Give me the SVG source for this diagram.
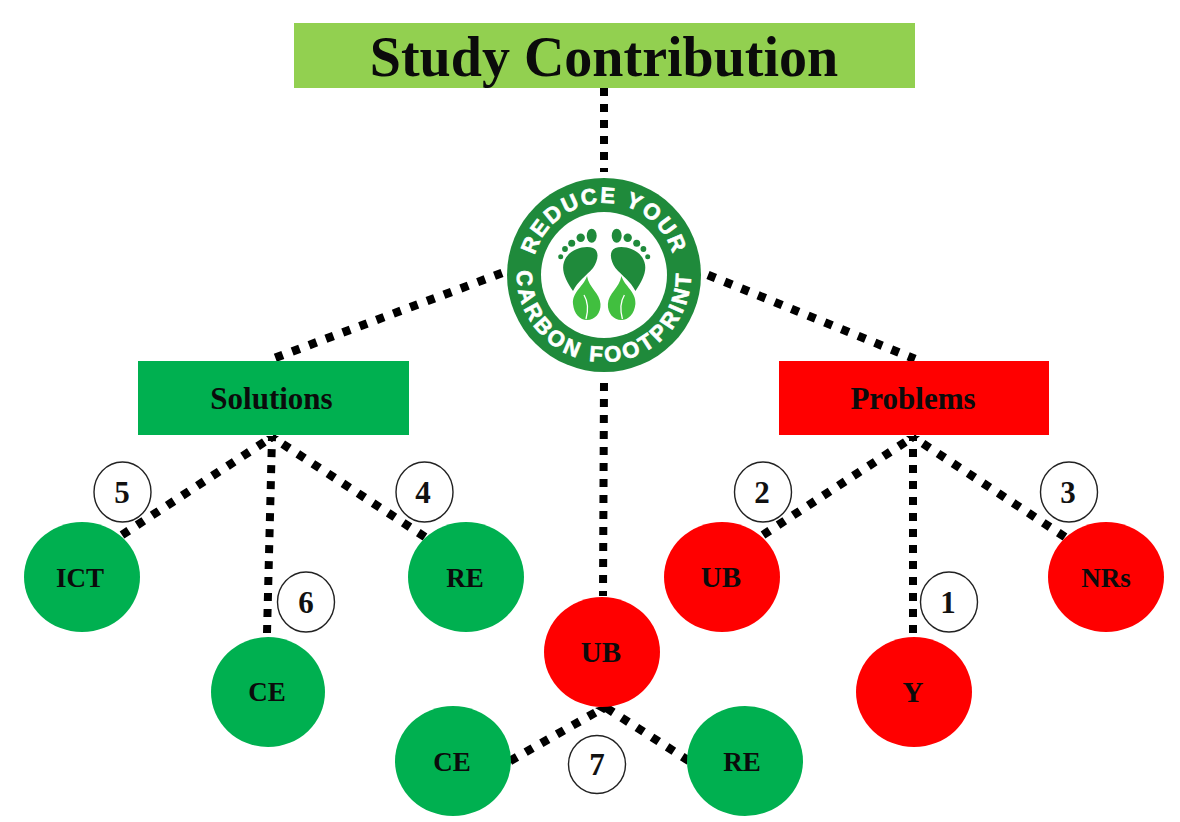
<svg xmlns="http://www.w3.org/2000/svg" xmlns:xlink="http://www.w3.org/1999/xlink" width="1180" height="822" viewBox="0 0 1180 822">
<style>
.lbl{font-family:"Liberation Serif","Times New Roman",serif;font-weight:bold;fill:#0b0b0b;text-anchor:middle}
.s{font-size:27px}
.m{font-size:29px}
.b{font-size:31px}
.num{font-family:"Liberation Serif","Times New Roman",serif;font-weight:bold;font-size:31px;fill:#111;text-anchor:middle}
.g{fill:#00b050}
.r{fill:#ff0000}
.n{fill:#fff;stroke:#222;stroke-width:1.4}
.c{fill:none;stroke:#000;stroke-width:8;stroke-dasharray:8 8}
.d{stroke-width:8.5;stroke-dasharray:8 10}
.lt{font-family:"Liberation Sans",Arial,sans-serif;font-weight:bold;font-size:22px;fill:#fff;stroke:#fff;stroke-width:.7;text-anchor:middle}
</style>
<defs>
<path id="arcTop" d="M532 275A72 72 0 0 1 676 275"/>
<path id="arcBot" d="M517 275A87 87 0 0 0 691 275"/>
<g id="foot">
<path d="M573 291C566 281 561 271 564 262C568 249 585 245 593 248C600 251 598 261 593 268C586 276 578 281 573 291Z" fill="#1f8a3b"/>
<ellipse cx="591.7" cy="235.7" rx="5" ry="7" fill="#1f8a3b"/>
<circle cx="580.7" cy="237.7" r="4.2" fill="#1f8a3b"/>
<circle cx="571.7" cy="243.3" r="3.5" fill="#1f8a3b"/>
<circle cx="565" cy="249" r="2.9" fill="#1f8a3b"/>
<circle cx="560.7" cy="256.7" r="2.5" fill="#1f8a3b"/>
<path d="M587 276C584 286 572 292 573 304C574 314 580 320 587 320C595 320 601 313 600.500 304C600 293 589 288 587 276Z" fill="#41bf3f"/>
<path d="M586 319C589 308 587 300 584 295" fill="none" stroke="#fff" stroke-width="1.3"/>
</g>
</defs>
<rect width="1180" height="822" fill="#fff"/>
<g id="connectors">
<path class="c" d="M604 88V172"/>
<path class="c d" d="M502 273L272 359"/>
<path class="c d" d="M708 275L915 359"/>
<path class="c" d="M604 383L603 596"/>
<path class="c d" d="M122 535L272 437"/>
<path class="c" d="M267 633L272 437"/>
<path class="c d" d="M425 537L272 437"/>
<path class="c d" d="M763 535L913 437"/>
<path class="c" d="M913 633V437"/>
<path class="c d" d="M1065 537L913 437"/>
<path class="c d" d="M510 761L605 707"/>
<path class="c d" d="M689 761L605 707"/>
<path d="M266 436H279L272 442Z M906 436H920L913 442Z M595 708L606 705L612 708L604 713Z" fill="#000"/>
</g>
<g id="title"><rect x="294" y="23" width="621" height="65" fill="#92d050"/><text class="lbl" x="604" y="76" font-size="56">Study Contribution</text></g>
<g id="logo">
<circle cx="604" cy="275" r="97" fill="#1f8a3b"/>
<circle cx="604" cy="275" r="63" fill="#fff"/>
<use xlink:href="#foot" href="#foot"/>
<use xlink:href="#foot" href="#foot" transform="translate(1208.4 0) scale(-1 1)"/>
<text class="lt" letter-spacing="2.2"><textPath xlink:href="#arcTop" href="#arcTop" startOffset="50%">REDUCE YOUR</textPath></text>
<text class="lt" letter-spacing="3.2"><textPath xlink:href="#arcBot" href="#arcBot" startOffset="50%">CARBON FOOTPRINT</textPath></text>
</g>
<g id="solutions"><rect class="g" x="138" y="361" width="271" height="74"/><text class="lbl b" x="271.500" y="409">Solutions</text></g>
<g id="problems"><rect class="r" x="779" y="361" width="270" height="74"/><text class="lbl b" x="913" y="409">Problems</text></g>
<g id="n-ict"><ellipse class="g" cx="82" cy="577" rx="58" ry="55"/><text class="lbl s" x="80" y="587">ICT</text></g>
<g id="n-ce1"><ellipse class="g" cx="268" cy="692" rx="57" ry="55"/><text class="lbl s" x="267" y="701">CE</text></g>
<g id="n-re1"><ellipse class="g" cx="466" cy="577" rx="58" ry="55"/><text class="lbl s" x="465" y="587">RE</text></g>
<g id="n-ub1"><ellipse class="r" cx="722" cy="577" rx="58" ry="55"/><text class="lbl m" x="721" y="587">UB</text></g>
<g id="n-y"><ellipse class="r" cx="914" cy="692" rx="58" ry="55"/><text class="lbl m" x="913" y="702">Y</text></g>
<g id="n-nrs"><ellipse class="r" cx="1106" cy="577" rx="58" ry="55"/><text class="lbl s" x="1106" y="587">NRs</text></g>
<g id="n-ub2"><ellipse class="r" cx="602" cy="652" rx="58" ry="55"/><text class="lbl m" x="601" y="662">UB</text></g>
<g id="n-ce2"><ellipse class="g" cx="453" cy="761" rx="58" ry="55"/><text class="lbl s" x="452" y="771">CE</text></g>
<g id="n-re2"><ellipse class="g" cx="745" cy="761" rx="58" ry="55"/><text class="lbl s" x="742" y="771">RE</text></g>
<g id="b5"><ellipse class="n" cx="122.500" cy="492" rx="28.500" ry="30"/><text class="num" x="122" y="503">5</text></g>
<g id="b4"><ellipse class="n" cx="424.500" cy="492" rx="28.500" ry="30"/><text class="num" x="423" y="503">4</text></g>
<g id="b6"><ellipse class="n" cx="306" cy="602" rx="28.500" ry="30"/><text class="num" x="306" y="613">6</text></g>
<g id="b2"><ellipse class="n" cx="763" cy="492" rx="28.500" ry="30"/><text class="num" x="762" y="503">2</text></g>
<g id="b3"><ellipse class="n" cx="1069" cy="492" rx="28.500" ry="30"/><text class="num" x="1068" y="503">3</text></g>
<g id="b1"><ellipse class="n" cx="949" cy="602" rx="28.500" ry="30"/><text class="num" x="948" y="613">1</text></g>
<g id="b7"><ellipse class="n" cx="597" cy="764.500" rx="28.500" ry="29"/><text class="num" x="597" y="775">7</text></g>
</svg>
